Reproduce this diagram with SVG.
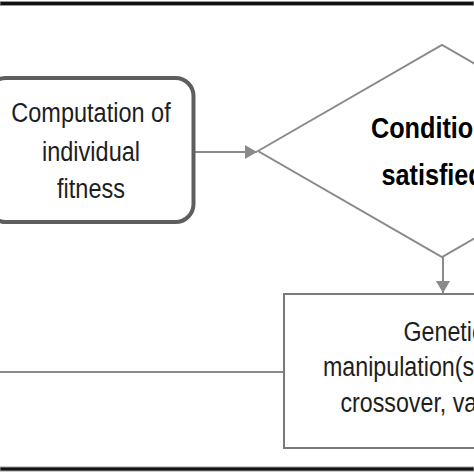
<svg xmlns="http://www.w3.org/2000/svg" width="474" height="474" viewBox="0 0 474 474">
<defs>
<style>
.t{font-family:"Liberation Sans",Arial,sans-serif;font-size:28px;fill:#1e1e1e}
.b{font-family:"Liberation Sans",Arial,sans-serif;font-size:29px;font-weight:bold;fill:#000}
.c{fill:none;stroke:#8a8a8a;stroke-width:2}
</style>
<marker id="ah" viewBox="0 0 12 14" refX="12" refY="7" markerWidth="12" markerHeight="14" markerUnits="userSpaceOnUse" orient="auto">
<path d="M0,0 L12,7 L0,14 Z" fill="#8a8a8a"/>
</marker>
</defs>
<rect width="474" height="474" fill="#fff"/>
<rect x="0" y="1.5" width="474" height="4" fill="#111" stroke="#999" stroke-width="1"/>
<rect x="0" y="467" width="474" height="4" fill="#111" stroke="#999" stroke-width="1"/>
<g id="connectors">
<line class="c" x1="195" y1="152" x2="257" y2="152" marker-end="url(#ah)"/>
<line class="c" x1="443" y1="257" x2="443" y2="293" marker-end="url(#ah)"/>
<line class="c" x1="0" y1="372" x2="284" y2="372"/>
</g>
<g id="fitness">
<rect x="-12" y="78" width="205.5" height="144" rx="18" fill="#fff" stroke="#5e5e5e" stroke-width="4"/>
<g transform="translate(91,0) scale(0.84,1)">
<text class="t" text-anchor="middle" x="0" y="122">Computation of</text>
<text class="t" text-anchor="middle" x="0" y="161">individual</text>
<text class="t" text-anchor="middle" x="0" y="198">fitness</text>
</g>
</g>
<g id="condition">
<polygon points="258,151 442,45 626,151 442,257" fill="#fff" stroke="#8a8a8a" stroke-width="2"/>
<g transform="translate(371,0) scale(0.87,1)">
<text class="b" x="0" y="138">Condition</text>
<text class="b" x="12" y="185">satisfied</text>
</g>
</g>
<g id="genetic">
<rect x="284" y="294" width="220" height="154" fill="#fff" stroke="#7a7a7a" stroke-width="2"/>
<g transform="translate(323,0) scale(0.83,1)">
<text class="t" x="97" y="341">Genetic</text>
<text class="t" x="0" y="376">manipulation(s</text>
<text class="t" x="21" y="412">crossover, var</text>
</g>
</g>
</svg>
